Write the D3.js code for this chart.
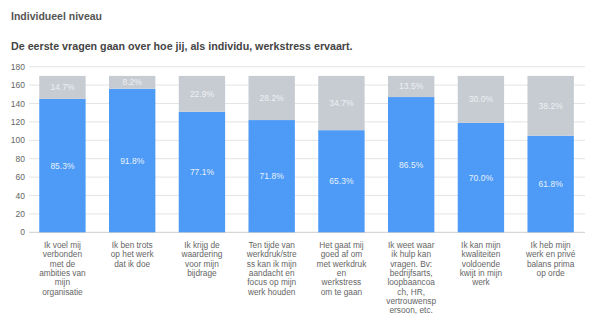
<!DOCTYPE html>
<html>
<head>
<meta charset="utf-8">
<script src="https://cdn.jsdelivr.net/npm/d3@7"></script>
<style>
  body { margin: 0; background: #fff; }
  text { font-family: "Liberation Sans", Arial, sans-serif; }
</style>
</head>
<body>
<script>
var width = 600;
var height = 324;

// data
var categories = [
    ["Ik voel mij", "verbonden", "met de", "ambities van", "mijn", "organisatie"],
    ["Ik ben trots", "op het werk", "dat ik doe"],
    ["Ik krijg de", "waardering", "voor mijn", "bijdrage"],
    ["Ten tijde van", "werkdruk/stre", "ss kan ik mijn", "aandacht en", "focus op mijn", "werk houden"],
    ["Het gaat mij", "goed af om", "met werkdruk", "en", "werkstress", "om te gaan"],
    ["Ik weet waar", "ik hulp kan", "vragen. Bv:", "bedrijfsarts,", "loopbaancoa", "ch, HR,", "vertrouwensp", "ersoon, etc."],
    ["Ik kan mijn", "kwaliteiten", "voldoende", "kwijt in mijn", "werk"],
    ["Ik heb mijn", "werk en privé", "balans prima", "op orde"]
];
var agree = [145, 156, 131, 122, 111, 147, 119, 105];
var disagree = [25, 14, 39, 48, 59, 23, 51, 65];
var agreeLabels = ["85.3%", "91.8%", "77.1%", "71.8%", "65.3%", "86.5%", "70.0%", "61.8%"];
var disagreeLabels = ["14.7%", "8.2%", "22.9%", "28.2%", "34.7%", "13.5%", "30.0%", "38.2%"];
var yTicks = [0, 20, 40, 60, 80, 100, 120, 140, 160, 180];

var svg = d3.select("body").append("svg").attr("width", width).attr("height", height);

svg.append("text").attr("x", 11).attr("y", 20)
    .attr("font-size", "10.5px").attr("font-weight", "bold").attr("fill", "#555")
    .text("Individueel niveau");
svg.append("text").attr("x", 11).attr("y", 50)
    .attr("font-size", "10.7px").attr("font-weight", "bold").attr("fill", "#444")
    .text("De eerste vragen gaan over hoe jij, als individu, werkstress ervaart.");

var idx = d3.range(categories.length);
var x = d3.scaleBand().domain(idx).range([27.6, 585.5]).paddingInner(0.335).paddingOuter(0.167);
var y = d3.scaleLinear().domain([0, 180]).range([232.3, 66.7]);

// gridlines
svg.append("g").selectAll("line").data(yTicks).enter().append("line")
    .attr("x1", 29).attr("x2", 585)
    .attr("y1", function (d) { return y(d); })
    .attr("y2", function (d) { return y(d); })
    .attr("stroke", function (d) { return d === 0 ? "#ccc" : "#e4e4e4"; })
    .attr("stroke-width", 1);

svg.append("g").selectAll("text").data(yTicks).enter().append("text")
    .attr("x", 25).attr("y", function (d) { return y(d) + 3; })
    .attr("text-anchor", "end").attr("font-size", "8.5px").attr("fill", "#666")
    .text(function (d) { return d; });

// bars
var bars = svg.append("g").selectAll("g").data(idx).enter().append("g");

bars.append("rect")
    .attr("x", function (i) { return x(i); })
    .attr("width", x.bandwidth())
    .attr("y", function (i) { return y(agree[i]); })
    .attr("height", function (i) { return y(0) - y(agree[i]); })
    .attr("fill", "#4d9bf6");

bars.append("rect")
    .attr("x", function (i) { return x(i); })
    .attr("width", x.bandwidth())
    .attr("y", function (i) { return y(agree[i] + disagree[i]); })
    .attr("height", function (i) { return y(agree[i]) - y(agree[i] + disagree[i]); })
    .attr("fill", "#c6ccd2");

bars.append("text")
    .attr("x", function (i) { return x(i) + x.bandwidth() / 2; })
    .attr("y", function (i) { return y(agree[i] / 2) + 3; })
    .attr("text-anchor", "middle").attr("font-size", "8.5px").attr("fill", "#e8f1fd")
    .text(function (i) { return agreeLabels[i]; });

bars.append("text")
    .attr("x", function (i) { return x(i) + x.bandwidth() / 2; })
    .attr("y", function (i) { return y(agree[i] + disagree[i] / 2) + 3; })
    .attr("text-anchor", "middle").attr("font-size", "8.5px").attr("fill", "#eef0f2")
    .text(function (i) { return disagreeLabels[i]; });

// category labels
bars.append("text")
    .attr("text-anchor", "middle").attr("font-size", "8.3px").attr("fill", "#666")
    .selectAll("tspan")
    .data(function (i) { return categories[i].map(function (s) { return { i: i, s: s }; }); })
    .enter().append("tspan")
    .attr("x", function (d) { return x(d.i) + x.bandwidth() / 2; })
    .attr("y", function (d, k) { return 248 + k * 9.3; })
    .text(function (d) { return d.s; });
</script>
</body>
</html>
